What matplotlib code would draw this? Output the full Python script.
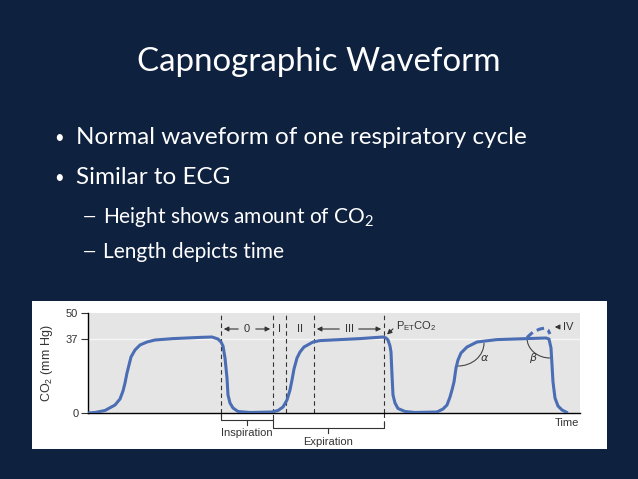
import matplotlib
matplotlib.use("Agg")
import matplotlib.pyplot as plt
from matplotlib.patches import Arc

plt.rcParams['mathtext.fontset'] = 'custom'
plt.rcParams['mathtext.rm'] = 'Lato'
plt.rcParams['mathtext.sf'] = 'Liberation Sans'

# slide text
title = "Capnographic Waveform"
bullets = ["Normal waveform of one respiratory cycle", "Similar to ECG"]
sub_bullets = ["Height shows amount of CO$_2$", "Length depicts time"]

# capnogram trace (time units, CO2 mm Hg)
wave_t = [0, 7, 17, 27, 32, 35, 37, 39, 41, 43, 47, 52, 59, 67, 85, 112, 124,
          130, 133, 135, 137, 139, 140, 142, 145, 150, 162, 184,
          190, 195, 199, 202, 204, 206, 209, 212, 216, 225, 232, 252, 272, 295,
          298, 300, 302, 303, 304, 305, 307, 310, 317, 327, 349,
          355, 359, 362, 364, 366, 368, 370, 373, 379, 389, 409, 439, 458,
          461, 463, 464, 465, 467, 470, 474, 479]
wave_co2 = [0, 0.25, 1.25, 4, 7, 11, 15, 20, 24, 28, 31.5, 34, 35.5, 36.5, 37.2, 37.8, 38,
            37, 35.5, 33.5, 27.5, 17.5, 9, 5, 2.5, 0.75, 0.25, 0.5,
            1.25, 3, 6.5, 11.5, 16.5, 22, 27.5, 30.5, 33, 35.5, 36.2, 36.7, 37.2, 38,
            37.5, 36.5, 33.5, 30.5, 19, 9, 5, 2.25, 0.75, 0.25, 0.5,
            2, 4, 8, 11.5, 15.5, 22.5, 26.5, 30, 33, 35.5, 36.7, 37.2, 37.5,
            37, 32.5, 24, 15.5, 7.5, 3.5, 1.5, 0.25]
# phase IV bump (dashed)
bump_t = [439, 445, 452, 457, 460, 462]
bump_co2 = [37.75, 40.5, 42, 42.5, 41.5, 39.5]

phase_lines = [133, 185, 198, 226, 296]
y_ticks = [0, 37, 50]

bg = '#0e213f'
blue = '#4a6db3'
ink = '#333333'

fig = plt.figure(figsize=(6.38, 4.79), dpi=100, facecolor=bg)

fig.text(0.5, 1 - 62 / 479, title, ha='center', va='center', color='white',
         fontsize=23.8, family='Lato')
for i, b in enumerate(bullets):
    y = 1 - (138 + 40 * i) / 479
    fig.text(54 / 638, y, "•", ha='left', va='center', color='white', fontsize=12, family='Lato')
    fig.text(76 / 638, y, b, ha='left', va='center', color='white', fontsize=17.5, family='Lato')
for i, s in enumerate(sub_bullets):
    y = 1 - (217 + 35 * i) / 479
    fig.text(83 / 638, y, "—", ha='left', va='center', color='white', fontsize=12, family='Lato')
    fig.text(103 / 638, y, s, ha='left', va='center', color='white', fontsize=15, family='Lato')

# white picture box
box = fig.add_axes([32 / 638, 1 - 449 / 479, 575 / 638, 148 / 479])
box.set_facecolor('white')
box.set_xticks([])
box.set_yticks([])
for s in box.spines.values():
    s.set_visible(False)

ax = fig.add_axes([88 / 638, 1 - 413 / 479, 492 / 638, 100 / 479])
ax.set_facecolor('#e5e5e5')
ax.set_xlim(0, 492)
ax.set_ylim(0, 50)
for s in ['top', 'right']:
    ax.spines[s].set_visible(False)
ax.spines['left'].set_linewidth(1)
ax.spines['bottom'].set_linewidth(1)
ax.set_xticks([])
ax.set_yticks(y_ticks)
ax.tick_params(axis='y', length=5, width=0.8, labelsize=8, pad=2, colors=ink)
for lab in ax.get_yticklabels():
    lab.set_family('Liberation Sans')
ax.set_ylabel(r"$\mathsf{CO_2}$ (mm Hg)", fontsize=9, family='Liberation Sans', color=ink)
ax.yaxis.set_label_coords(-0.067, 0.5)
ax.axhline(37, color='#f6f6f6', lw=1, zorder=1)

dash = (0, (4, 3))
for t in phase_lines:
    ax.plot([t, t], [0, 50], color=ink, lw=0.8, ls=dash, zorder=2)
ax.plot([133, 133], [0, -3.5], color=ink, lw=0.8, ls=dash, clip_on=False)
ax.plot([296, 296], [0, -7.5], color=ink, lw=0.8, ls=dash, clip_on=False)

ax.plot(wave_t, wave_co2, color=blue, lw=2.2, solid_capstyle='round',
        solid_joinstyle='round', zorder=4)
ax.plot(bump_t, bump_co2, color=blue, lw=2.2, ls=(0, (2.5, 1.5)), zorder=4)

txt = dict(fontsize=8, family='Liberation Sans', color=ink)
arr = dict(arrowstyle='-|>', color=ink, lw=0.8, mutation_scale=7)
# phase 0
ax.annotate('', xy=(133, 42), xytext=(153, 42), arrowprops=arr)
ax.annotate('', xy=(185, 42), xytext=(165, 42), arrowprops=arr)
ax.text(159, 42, '0', ha='center', va='center', **txt)
ax.text(191.5, 42, 'I', ha='center', va='center', **txt)
ax.text(212, 42, 'II', ha='center', va='center', **txt)
# phase III
ax.annotate('', xy=(226, 42), xytext=(254, 42), arrowprops=arr)
ax.annotate('', xy=(296, 42), xytext=(268, 42), arrowprops=arr)
ax.text(261, 42, 'III', ha='center', va='center', **txt)
# PetCO2
ax.annotate('', xy=(297, 38.3), xytext=(307, 43), arrowprops=arr)
ax.text(308, 43.5, r'P$\mathsf{_{ET}}$CO$\mathsf{_2}$', ha='left', va='center', **txt)
# phase IV
ax.annotate('', xy=(464, 43), xytext=(474, 43), arrowprops=arr)
ax.text(475, 43, 'IV', ha='left', va='center', **txt)
ax.text(479, -5, 'Time', ha='center', va='center', **txt)

# angles
ax.add_patch(Arc((370, 35), 52, 23, theta1=270, theta2=360, color='#444444', lw=0.8))
ax.text(397, 27.5, r'$\alpha$', ha='center', va='center', fontsize=8, color=ink)
ax.add_patch(Arc((462, 37.5), 46, 20, theta1=180, theta2=270, color='#444444', lw=0.8))
ax.text(445, 27.5, r'$\beta$', ha='center', va='center', fontsize=8, color=ink)

# inspiration / expiration brackets
k = dict(color=ink, lw=0.8, clip_on=False)
ax.plot([133, 133, 185, 185], [-1, -3.5, -3.5, -1], **k)
ax.plot([159, 159], [-3.5, -6], **k)
ax.text(159, -10, 'Inspiration', ha='center', va='center', **txt)
ax.plot([185, 185, 296, 296], [-3.5, -7.5, -7.5, -5], **k)
ax.plot([240, 240], [-7.5, -10], **k)
ax.text(240, -14.5, 'Expiration', ha='center', va='center', **txt)

fig.savefig('out.png', dpi=100, facecolor=bg)
